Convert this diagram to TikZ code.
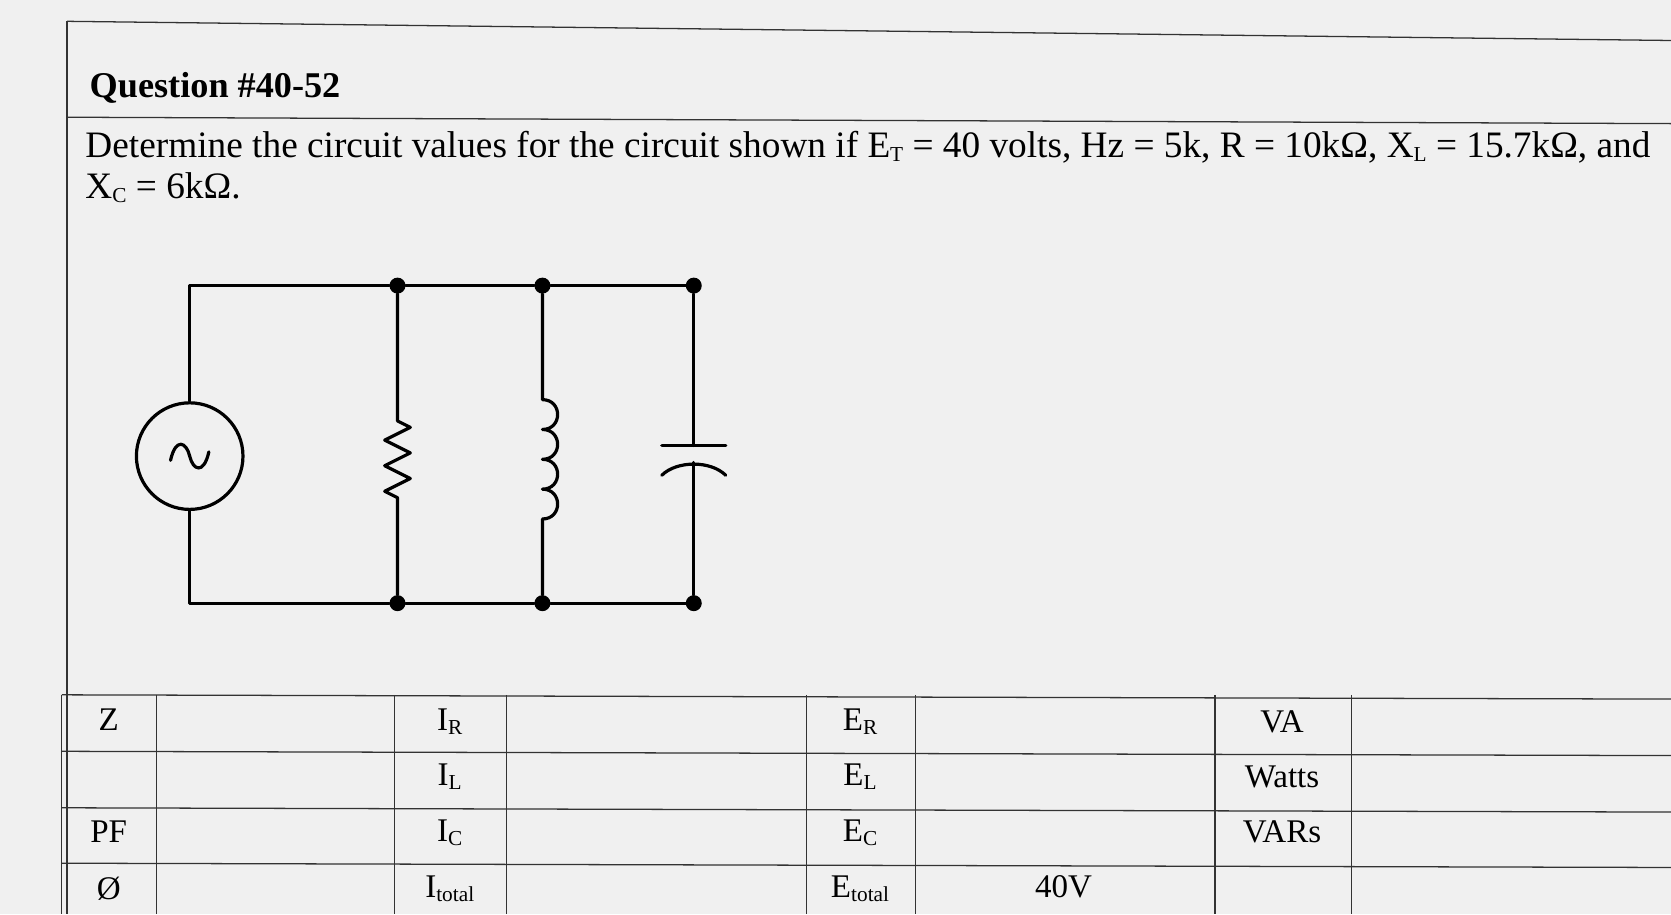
\documentclass[tikz,border=0pt]{standalone}
\usepackage{fontspec}
\setmainfont{Liberation Serif}
\newcommand{\sbs}[1]{\raisebox{-0.12em}{\fontsize{20}{24}\selectfont #1}}
\begin{document}
\begin{tikzpicture}[x=1pt,y=-1pt,
  wire/.style={line width=3pt,line cap=round,line join=round},
  grid/.style={line width=1.2pt,black!80},
  dot/.style={circle,fill=black,inner sep=0pt,minimum size=15pt},
  txt/.style={font=\fontsize{35}{40}\selectfont,inner sep=0pt},
  cell/.style={font=\fontsize{31}{36}\selectfont,inner sep=0pt}]
\fill[gray!12] (0,0) rectangle (1568,858);
\useasboundingbox (0,0) rectangle (1568,858);
% frame
\draw[grid] (63,20) -- (63,858);
\draw[grid] (63,20) -- (1568,38);
\draw[grid] (63,110) -- (1568,116);
\node[txt,anchor=west,font=\bfseries\fontsize{34}{40}\selectfont] (title) at (84,82) {Question \#40-52};
\node[txt,anchor=west] (l1) at (80,138) {Determine the circuit values for the circuit shown if E\sbs{T} = 40 volts, Hz = 5k, R = 10kΩ, X\sbs{L} = 15.7kΩ, and};
\node[txt,anchor=west] (l2) at (80,176) {X\sbs{C} = 6kΩ.};
% circuit
\coordinate (tl) at (178,268); \coordinate (bl) at (178,566);
\node[dot] (t1) at (373,268) {}; \node[dot] (b1) at (373,566) {};
\node[dot] (t2) at (509,268) {}; \node[dot] (b2) at (509,566) {};
\node[dot] (t3) at (651,268) {}; \node[dot] (b3) at (651,566) {};
\node[circle,draw,line width=3pt,minimum size=100pt,inner sep=0pt] (src) at (178,428) {};
\draw[wire] (src.north) -- (tl) -- (t1) -- (t2) -- (t3);
\draw[wire] (src.south) -- (bl) -- (b1) -- (b2) -- (b3);
\draw[wire] (160,432) .. controls (165,410) and (175,415) .. (178,428) .. controls (181,441) and (191,446) .. (196,424);
% resistor
\draw[wire] (t1) -- (373,395) -- (385,401) -- (361,413) -- (385,425) -- (361,437) -- (385,449) -- (361,461) -- (373,467) -- (b1);
% inductor
\draw[wire] (t2) -- (509,375)
  .. controls (528,375) and (528,403) .. (509,403)
  .. controls (528,403) and (528,431) .. (509,431)
  .. controls (528,431) and (528,459) .. (509,459)
  .. controls (528,459) and (528,487) .. (509,487)
  -- (b2);
% capacitor
\draw[wire] (t3) -- (651,418);
\draw[wire] (621,418) -- (681,418);
\draw[wire] (621,446) .. controls (635,432) and (667,432) .. (681,446);
\draw[wire] (651,434) -- (b3);
% table
\foreach \y in {652,705,758,810} \draw[grid] (58,\y) -- (1568,\y+4);
\foreach \x in {58,147,370,475,757,859,1140,1268} \draw[grid] (\x,652) -- (\x,858);
\node[cell] (z) at (102,675) {Z};
\node[cell] (pf) at (102,780) {PF};
\node[cell] (phi) at (102,834) {Ø};
\node[cell] (ir) at (422,677) {I\sbs{R}};
\node[cell] (il) at (422,729) {I\sbs{L}};
\node[cell] (ic) at (422,781) {I\sbs{C}};
\node[cell] (it) at (422,834) {I\sbs{total}};
\node[cell] (er) at (807,677) {E\sbs{R}};
\node[cell] (el) at (807,729) {E\sbs{L}};
\node[cell] (ec) at (807,781) {E\sbs{C}};
\node[cell] (et) at (807,834) {E\sbs{total}};
\node[cell] (v) at (998,832) {40V};
\node[cell] (va) at (1203,677) {VA};
\node[cell] (w) at (1203,729) {Watts};
\node[cell] (vars) at (1203,781) {VARs};
\end{tikzpicture}
\end{document}
